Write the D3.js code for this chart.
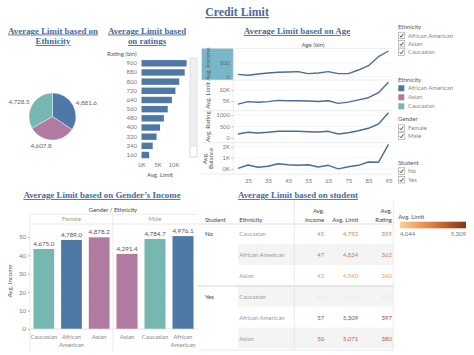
<!DOCTYPE html>
<html><head><meta charset="utf-8">
<script src="https://cdn.jsdelivr.net/npm/d3@7"></script>
<style>body{margin:0;background:#fff}svg{display:block}</style>
</head><body><svg id="c" width="474" height="355"></svg>
<script>
// ---------- DATA ----------
const ethnicities = ["African American", "Asian", "Caucasian"];
const ethColors = ["#4e79a7", "#b07aa1", "#76b7b2"];
const pieValues = [4881.6, 4607.8, 4728.5];

const ratingBins = [960, 880, 800, 720, 640, 560, 480, 400, 320, 240, 160];
const ratingLimit = [14100, 13500, 11800, 10600, 9500, 8200, 7000, 5800, 4700, 3500, 2400];
const ratingTicks = [0, 5000, 10000];

const ageBins = [20, 25, 30, 35, 40, 45, 50, 55, 60, 65, 70, 75, 80, 85, 90, 95];
const ageIncome = [16, 9, 19, 26, 31, 33, 36, 21, 26, 36, 21, 21, 48, 80, 147, 189];
const ageLimit = [3600, 4700, 4400, 4700, 5300, 5100, 5100, 5000, 4800, 5100, 3900, 4500, 5500, 6500, 8800, 13500];
const ageRating = [174, 248, 217, 248, 291, 291, 291, 274, 261, 291, 174, 230, 317, 422, 609, 1100];
const ageBalance = [63, 357, 152, 241, 473, 384, 330, 384, 179, 330, 10, 205, 330, 625, 598, 2205];
const ageTicks = [25, 35, 45, 55, 65, 75, 85, 95];
const incomeTicks = [0, 100];
const limitTicks = [5000, 10000];
const ratingAxisTicks = [0, 500, 1000];
const balanceTicks = [0, 1000, 2000];

const genders = ["Female", "Male"];
const genderEth = [["Caucasian", "African American", "Asian"], ["Asian", "Caucasian", "African American"]];
const genderIncome = [[43.5, 48.4, 49.8], [40.8, 48.9, 50.5]];
const genderLimit = [[4675.0, 4789.0, 4878.2], [4291.4, 4784.7, 4976.1]];
const genderTicks = [0, 10, 20, 30, 40, 50];

const studentGroups = ["No", "Yes"];
const tableEth = ["Caucasian", "African American", "Asian"];
const tableIncome = [[45, 47, 43], [41, 57, 50]];
const tableLimit = [[4792, 4834, 4540], [4044, 5309, 5071]];
const tableRating = [[359, 362, 340], [309, 397, 380]];

// ---------- SETUP ----------
const svg = d3.select("#c");
const SANS = "Lato, 'Open Sans', sans-serif";
const SERIF = "'Liberation Serif', 'Times New Roman', serif";
const TITLE = "#4a6b9b";
const LINE = "#4a6c95";
const grey = "#777";

function title(lines, x, y, size, lh) {
  lines.forEach((t, i) => {
    svg.append("text").attr("x", x).attr("y", y + i * (lh || 10.5))
      .attr("text-anchor", "middle").attr("font-family", SERIF)
      .attr("font-weight", "bold").attr("font-size", size)
      .attr("fill", TITLE).attr("text-decoration", "underline").text(t);
  });
}
function txt(t, x, y, opts) {
  opts = opts || {};
  return svg.append("text").attr("x", x).attr("y", y)
    .attr("font-family", SANS).attr("font-size", opts.size || 6)
    .attr("fill", opts.fill || grey).attr("text-anchor", opts.anchor || "start")
    .attr("font-weight", opts.weight || "normal").text(t);
}
function styleAxis(g, size) {
  g.selectAll("text").attr("font-family", SANS).attr("font-size", size || 6).attr("fill", grey);
  g.select(".domain").remove();
  g.selectAll(".tick line").attr("stroke", "#bbb");
}

title(["Credit Limit"], 237, 16, 11.8);

// ---------- PIE ----------
title(["Average Limit based on", "Ethnicity"], 53, 33.5, 8.9, 10.5);
const pcx = 52.5, pcy = 116.5, pr = 23.5;
const pie = d3.pie().sort(null)(pieValues);
const arc = d3.arc().innerRadius(0).outerRadius(pr);
const pg = svg.append("g").attr("transform", `translate(${pcx},${pcy})`);
pg.selectAll("path").data(pie).join("path").attr("d", arc)
  .attr("fill", (d, i) => ethColors[i]).attr("stroke", "#fff").attr("stroke-width", 0.4);
pie.forEach((d, i) => {
  const a = (d.startAngle + d.endAngle) / 2;
  const sx = Math.sin(a), cy = -Math.cos(a);
  const lx = pcx + (pr + 3) * sx, ly = pcy + (pr + 6) * cy + 2.2;
  txt(d3.format(",.1f")(pieValues[i]), lx, ly, { anchor: sx > 0.1 ? "start" : "end", size: 6.3, fill: "#666" });
});

// ---------- RATINGS BARS ----------
title(["Average Limit based", "on ratings"], 147, 33.5, 8.9, 10.5);
txt("Rating (bin)", 107, 56, { size: 6, fill: "#555" });
const ry = d3.scaleBand().domain(ratingBins).range([58.7, 159.6]).paddingInner(0.3).paddingOuter(0.15);
const rx = d3.scaleLinear().domain([0, 15000]).range([141.5, 189.5]);
svg.append("g").selectAll("rect").data(ratingBins).join("rect")
  .attr("x", rx(0)).attr("y", d => ry(d)).attr("height", ry.bandwidth())
  .attr("width", (d, i) => rx(ratingLimit[i]) - rx(0)).attr("fill", "#4e79a7");
const ryAx = svg.append("g").attr("transform", "translate(139,0)")
  .call(d3.axisLeft(ry).tickSize(0).tickPadding(2));
styleAxis(ryAx);
const rxAx = svg.append("g").attr("transform", "translate(0,160)")
  .call(d3.axisBottom(rx).tickValues(ratingTicks).tickSize(0).tickPadding(3).tickFormat(d => d / 1000 + "K"));
styleAxis(rxAx);
txt("Avg. Limit", 160, 177, { anchor: "middle", size: 6, fill: "#555" });
// scrollbar
svg.append("rect").attr("x", 190).attr("y", 58).attr("width", 7).attr("height", 99)
  .attr("fill", "#efefef").attr("stroke", "#cfcfcf").attr("stroke-width", 0.6);
svg.append("rect").attr("x", 190).attr("y", 146).attr("width", 7).attr("height", 11)
  .attr("fill", "#fff").attr("stroke", "#cfcfcf").attr("stroke-width", 0.6);

// ---------- AGE LINES ----------
title(["Average Limit based on Age"], 297, 34, 8.9);
txt("Age (bin)", 313, 46.5, { anchor: "middle", size: 6, fill: "#555" });
const ax = d3.scaleLinear().domain([20, 95]).range([238, 388.5]);
const rows = [
  { name: ["Avg. Income"], vals: ageIncome, ticks: incomeTicks, fmt: d => d, top: 48.3, bot: 80, dom: [0, 100], rng: [76.5, 63] },
  { name: ["Avg. Limit"], vals: ageLimit, ticks: limitTicks, fmt: d => d / 1000 + "K", top: 80, bot: 110.7, dom: [0, 10000], rng: [112, 90] },
  { name: ["Avg. Rating"], vals: ageRating, ticks: ratingAxisTicks, fmt: d => d, top: 110.7, bot: 142.7, dom: [0, 1000], rng: [138, 115] },
  { name: ["Avg.", "Balance"], vals: ageBalance, ticks: balanceTicks, fmt: d => d / 1000 + "K", top: 142.7, bot: 174, dom: [0, 2000], rng: [169, 146.6] }
];
svg.append("rect").attr("x", 201.7).attr("y", 48.3).attr("width", 31.6).attr("height", 31.7).attr("fill", "#7ab6c9");
rows.forEach((r, k) => {
  const y = d3.scaleLinear().domain(r.dom).range(r.rng);
  svg.append("g").selectAll("line").data(r.ticks).join("line")
    .attr("x1", 233.3).attr("x2", 392).attr("y1", d => y(d)).attr("y2", d => y(d))
    .attr("stroke", "#f0f0f0").attr("stroke-width", 0.6);
  svg.append("line").attr("x1", 201.7).attr("x2", 392).attr("y1", r.top).attr("y2", r.top)
    .attr("stroke", "#e2e2e2").attr("stroke-width", 0.7);
  const g = svg.append("g").attr("transform", "translate(233.3,0)")
    .call(d3.axisLeft(y).tickValues(r.ticks).tickSize(2).tickPadding(1.5).tickFormat(r.fmt));
  styleAxis(g, 5.8);
  if (k === 0) g.selectAll("text").attr("fill", "#5a6a70");
  const mid = (r.top + r.bot) / 2;
  r.name.forEach((n, j) => {
    const xx = r.name.length > 1 ? 204.5 + j * 6.5 : 207.5;
    svg.append("text").attr("transform", `translate(${xx},${mid}) rotate(-90)`)
      .attr("text-anchor", "middle").attr("dy", "0.35em")
      .attr("font-family", SANS).attr("font-size", 6.2).attr("fill", "#555").text(n);
  });
  const line = d3.line().x((d, i) => ax(ageBins[i])).y(d => y(d));
  svg.append("path").datum(r.vals).attr("d", line).attr("fill", "none")
    .attr("stroke", LINE).attr("stroke-width", 1.4).attr("stroke-linejoin", "round");
});
svg.append("line").attr("x1", 201.7).attr("x2", 392).attr("y1", 174).attr("y2", 174)
  .attr("stroke", "#e2e2e2").attr("stroke-width", 0.7);
svg.append("line").attr("x1", 233.3).attr("x2", 233.3).attr("y1", 48.3).attr("y2", 174)
  .attr("stroke", "#e2e2e2").attr("stroke-width", 0.7);
const axAx = svg.append("g").attr("transform", "translate(0,174)")
  .call(d3.axisBottom(ax).tickValues(ageTicks).tickSize(0).tickPadding(4.5));
styleAxis(axAx);

// ---------- LEGENDS ----------
function checkbox(x, y) {
  svg.append("rect").attr("x", x).attr("y", y - 3.5).attr("width", 6.5).attr("height", 6.5)
    .attr("fill", "#fff").attr("stroke", "#999").attr("stroke-width", 0.6);
  svg.append("path").attr("d", `M${x + 1.5},${y} L${x + 2.8},${y + 1.5} L${x + 5},${y - 1.8}`)
    .attr("fill", "none").attr("stroke", "#333").attr("stroke-width", 0.9);
}
txt("Ethnicity", 398, 28.7, { size: 6, fill: "#555" });
ethnicities.forEach((e, i) => { const y = 35.7 + i * 8.3; checkbox(398.3, y); txt(e, 408, y + 2, { size: 6, fill: "#888" }); });
txt("Ethnicity", 398, 82, { size: 6, fill: "#555" });
ethnicities.forEach((e, i) => {
  const y = 88.3 + i * 9;
  svg.append("rect").attr("x", 398.3).attr("y", y - 3).attr("width", 6).attr("height", 6).attr("fill", ethColors[i]);
  txt(e, 408, y + 2, { size: 6, fill: "#888" });
});
txt("Gender", 398, 121.3, { size: 6, fill: "#555" });
genders.forEach((g, i) => { const y = 128.3 + i * 8; checkbox(398.3, y); txt(g, 408, y + 2, { size: 6, fill: "#888" }); });
txt("Student", 398, 164.7, { size: 6, fill: "#555" });
studentGroups.forEach((s, i) => { const y = 171.3 + i * 8.7; checkbox(398.3, y); txt(s, 408, y + 2, { size: 6, fill: "#888" }); });

// ---------- GENDER BARS ----------
title(["Average Limit based on Gender\u2019s Income"], 102, 198, 8.9);
txt("Gender / Ethnicity", 113, 212, { anchor: "middle", size: 6, fill: "#444" });
const gy = d3.scaleLinear().domain([0, 50]).range([329, 237]);
const panels = [[30, 113], [113, 197]];
svg.append("g").selectAll("line").data(genderTicks).join("line")
  .attr("x1", 30).attr("x2", 197).attr("y1", d => gy(d)).attr("y2", d => gy(d))
  .attr("stroke", "#f3f3f3").attr("stroke-width", 0.6);
genders.forEach((gname, gi) => {
  const [x0, x1] = panels[gi];
  const bx = d3.scaleBand().domain(genderEth[gi]).range([x0, x1]).paddingInner(0.25).paddingOuter(0.125);
  txt(gname, (x0 + x1) / 2, 221, { anchor: "middle", size: 6, fill: "#999" });
  svg.append("g").selectAll("rect").data(genderEth[gi]).join("rect")
    .attr("x", d => bx(d)).attr("width", bx.bandwidth())
    .attr("y", (d, i) => gy(genderIncome[gi][i]))
    .attr("height", (d, i) => gy(0) - gy(genderIncome[gi][i]))
    .attr("fill", d => ethColors[ethnicities.indexOf(d)]);
  genderEth[gi].forEach((e, i) => {
    const cx = bx(e) + bx.bandwidth() / 2;
    txt(d3.format(",.1f")(genderLimit[gi][i]), cx, gy(genderIncome[gi][i]) - 3, { anchor: "middle", size: 6.3, fill: "#555" });
    const parts = e.split(" ");
    parts.forEach((p, j) => txt(p, cx, 339 + j * 8.3, { anchor: "middle", size: 6, fill: "#888" }));
  });
});
[214.3, 224].forEach(yy => svg.append("line").attr("x1", 30).attr("x2", 197).attr("y1", yy).attr("y2", yy)
  .attr("stroke", "#e2e2e2").attr("stroke-width", 0.7));
svg.append("line").attr("x1", 30).attr("x2", 197).attr("y1", gy(0)).attr("y2", gy(0)).attr("stroke", "#ddd").attr("stroke-width", 0.7);
[30, 113].forEach(xx => svg.append("line").attr("x1", xx).attr("x2", xx).attr("y1", 214.3).attr("y2", 352)
  .attr("stroke", "#e2e2e2").attr("stroke-width", 0.7));
const gAx = svg.append("g").attr("transform", "translate(30,0)")
  .call(d3.axisLeft(gy).tickValues(genderTicks).tickSize(2).tickPadding(2));
styleAxis(gAx);
svg.append("text").attr("transform", "translate(12,281) rotate(-90)").attr("text-anchor", "middle")
  .attr("font-family", SANS).attr("font-size", 6.2).attr("fill", "#555").text("Avg. Income");

// ---------- TABLE ----------
title(["Average Limit based on student"], 298, 198, 8.9);
const lo = d3.min(tableLimit.flat()), hi = d3.max(tableLimit.flat());
const ramp = d3.interpolateRgbBasis(["#fde3c8", "#f7b37a", "#e8894a", "#c46a3a", "#8e4a2c"]);
const col = v => ramp((v - lo) / (hi - lo));
const rowH = 20.9, row0 = 234;
for (let r = 0; r < 6; r++) {
  if (r % 2 === 1) svg.append("rect").attr("x", 238).attr("y", row0 + r * rowH - rowH / 2 - 0.5)
    .attr("width", 155.3).attr("height", rowH).attr("fill", "#f4f4f4");
}
txt("Student", 205, 221.5, { fill: "#444" });
txt("Ethnicity", 239.3, 221.5, { fill: "#444" });
txt("Avg.", 324.3, 213, { fill: "#444", anchor: "end" });
txt("Income", 324.3, 221.5, { fill: "#444", anchor: "end" });
txt("Avg. Limit", 358.3, 221.5, { fill: "#444", anchor: "end" });
txt("Avg.", 392, 213, { fill: "#444", anchor: "end" });
txt("Rating", 392, 221.5, { fill: "#444", anchor: "end" });
svg.append("line").attr("x1", 198).attr("x2", 393.3).attr("y1", 224).attr("y2", 224).attr("stroke", "#d5d5d5").attr("stroke-width", 0.8);
svg.append("line").attr("x1", 198).attr("x2", 393.3).attr("y1", 286).attr("y2", 286).attr("stroke", "#cfcfcf").attr("stroke-width", 0.9);
svg.append("line").attr("x1", 198).attr("x2", 393.3).attr("y1", 350).attr("y2", 350).attr("stroke", "#e2e2e2").attr("stroke-width", 0.7);
svg.append("line").attr("x1", 294.3).attr("x2", 294.3).attr("y1", 200).attr("y2", 350).attr("stroke", "#e2e2e2").attr("stroke-width", 0.7);
svg.append("line").attr("x1", 393.3).attr("x2", 393.3).attr("y1", 200).attr("y2", 350).attr("stroke", "#e2e2e2").attr("stroke-width", 0.7);
studentGroups.forEach((s, si) => {
  txt(s, 205, row0 + si * 3 * rowH + 2, { fill: "#444" });
  tableEth.forEach((e, ei) => {
    const y = row0 + (si * 3 + ei) * rowH + 2;
    const c = col(tableLimit[si][ei]);
    txt(e, 239.3, y, { fill: "#999" });
    txt(tableIncome[si][ei], 324.3, y, { fill: c, anchor: "end" });
    txt(d3.format(",")(tableLimit[si][ei]), 358.3, y, { fill: c, anchor: "end" });
    txt(tableRating[si][ei], 392, y, { fill: c, anchor: "end" });
  });
});
txt("Avg. Limit", 398.3, 218.5, { fill: "#555" });
const defs = svg.append("defs");
const grad = defs.append("linearGradient").attr("id", "lg");
const legRamp = d3.interpolateRgbBasis(["#fbcf9f", "#f4a462", "#e07b3a", "#b45526", "#7e3519"]);
d3.range(0, 1.01, 0.1).forEach(t => grad.append("stop").attr("offset", t).attr("stop-color", legRamp(t)));
svg.append("rect").attr("x", 400).attr("y", 221.7).attr("width", 66).attr("height", 6.6).attr("fill", "url(#lg)");
txt(d3.format(",")(lo), 400, 236, { fill: "#777" });
txt(d3.format(",")(hi), 466, 236, { fill: "#777", anchor: "end" });
</script></body></html>
